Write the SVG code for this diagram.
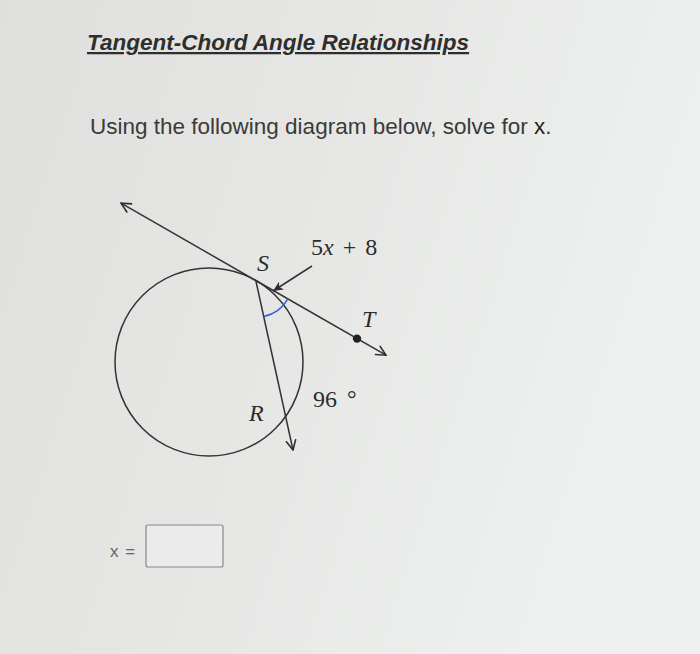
<svg xmlns="http://www.w3.org/2000/svg" width="700" height="654" viewBox="0 0 700 654">
  <defs>
    <linearGradient id="bg" x1="0" y1="0" x2="1" y2="0.3">
      <stop offset="0" stop-color="#dfe0dd"/>
      <stop offset="0.55" stop-color="#e7e8e6"/>
      <stop offset="1" stop-color="#eef1f0"/>
    </linearGradient>
    <marker id="open" viewBox="0 0 12 12" refX="11" refY="6" markerWidth="12" markerHeight="12" markerUnits="userSpaceOnUse" orient="auto">
      <path d="M1,1 L11,6 L1,11" fill="none" stroke="#2f2f2f" stroke-width="1.6"/>
    </marker>
    <marker id="solid" viewBox="0 0 12 12" refX="11" refY="6" markerWidth="11" markerHeight="11" markerUnits="userSpaceOnUse" orient="auto">
      <path d="M0,1 L11,6 L0,11 L3,6 Z" fill="#2f2f2f"/>
    </marker>
  </defs>
  <style>
    .ln { stroke: #333; stroke-width: 1.5; fill: none; }
    .geo { font-family: "Liberation Serif", "DejaVu Serif", serif; font-size: 24px; fill: #2c2c2c; }
    .it { font-style: italic; }
  </style>
  <rect width="700" height="654" fill="url(#bg)"/>

  <g id="title">
    <text x="87" y="50" font-family="Liberation Sans, Arial, sans-serif" font-size="22.5" font-weight="bold" font-style="italic" fill="#2e2e2e" text-decoration="underline">Tangent-Chord Angle Relationships</text>
  </g>
  <g id="prompt">
    <text x="90" y="134" font-family="Liberation Sans, Arial, sans-serif" font-size="22.5" fill="#3a3a3a">Using the following diagram below, solve for <tspan fill="#222">x</tspan>.</text>
  </g>

  <g id="circle">
    <circle cx="209" cy="362" r="94" class="ln"/>
  </g>

  <g id="connectors">
    <line x1="255.8" y1="280.5" x2="121" y2="203.2" class="ln" marker-end="url(#open)"/>
    <line x1="255.8" y1="280.5" x2="386" y2="355.2" class="ln" marker-end="url(#open)"/>
    <line x1="255.8" y1="280.5" x2="293" y2="450" class="ln" marker-end="url(#open)"/>
    <line x1="312" y1="266" x2="273" y2="291" class="ln" marker-end="url(#solid)"/>
    <path d="M263.7,316.6 A37,37 0 0 0 287.9,298.9" fill="none" stroke="#3b5fd6" stroke-width="1.6"/>
  </g>

  <g id="point-T">
    <circle cx="357" cy="338.6" r="4.2" fill="#222"/>
  </g>

  <g id="labels">
    <text x="257" y="271" class="geo it">S</text>
    <text x="362" y="327" class="geo it">T</text>
    <text x="249" y="421" class="geo it">R</text>
    <text x="311" y="255" class="geo" word-spacing="3">5<tspan class="it">x</tspan> + 8</text>
    <text x="313" y="407" class="geo" word-spacing="4">96 °</text>
  </g>

  <g id="answer">
    <text x="110" y="557" font-family="Liberation Sans, Arial, sans-serif" font-size="17" fill="#666" word-spacing="2">x =</text>
    <rect x="146" y="525" width="77" height="42" rx="2" fill="#eaebea" stroke="#888" stroke-width="1.2"/>
  </g>
</svg>
